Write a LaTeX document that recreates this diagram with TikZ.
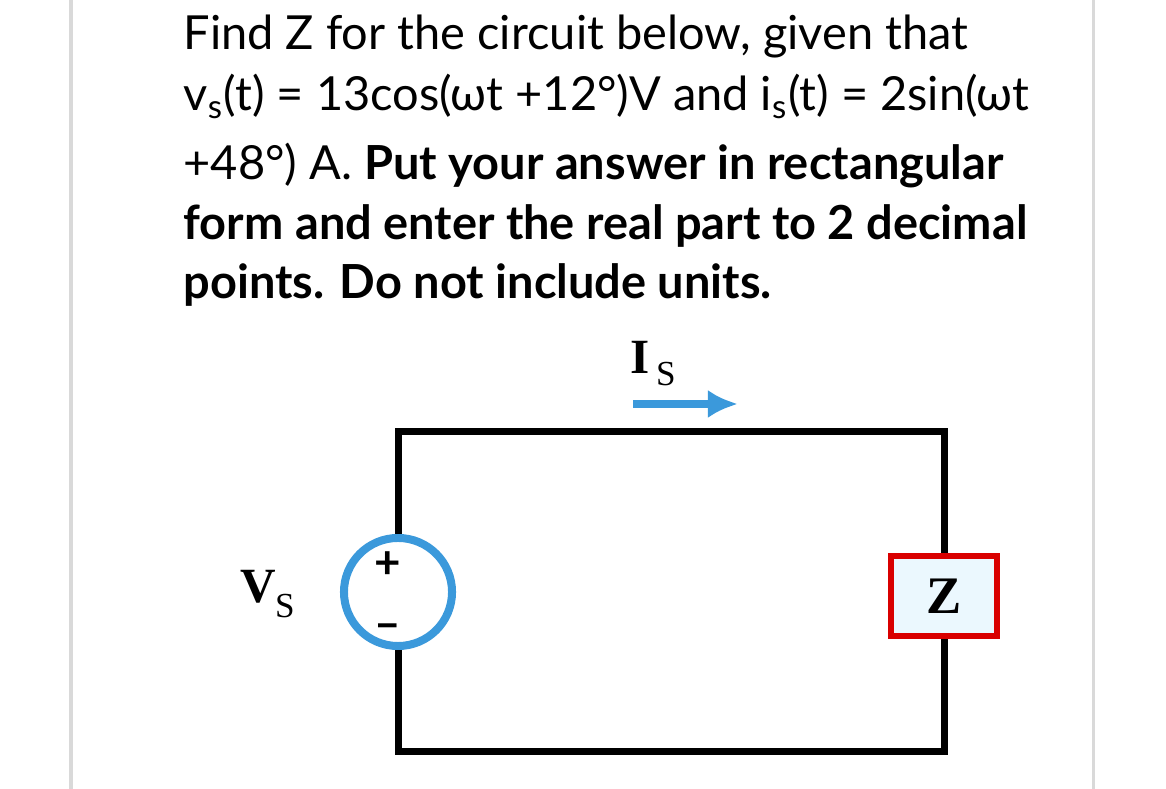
\documentclass[tikz,border=0pt]{standalone}
\usepackage{fontspec}
\usetikzlibrary{arrows.meta}
\setmainfont{Lato}
\newfontfamily\tms{Liberation Serif}
\begin{document}
\begin{tikzpicture}[x=0.01cm,y=-0.01cm,
  txt/.style={anchor=base west,inner sep=0,font=\fontsize{13.35}{15}\selectfont},
  wire/.style={line width=0.07cm},
  lbl/.style={font=\tms\bfseries\fontsize{14}{15}\selectfont,inner sep=0}]
\useasboundingbox (0,0) rectangle (1166,789);
\fill[white] (0,0) rectangle (1166,789);
\draw[gray!30,line width=0.03cm] (71,0) -- (71,789);
\draw[gray!30,line width=0.03cm] (1093,0) -- (1093,789);
\node[txt] (l1) at (183,50) {Find Z for the circuit below, given that};
\node[txt] (l2) at (183,111) {v\textsubscript{s}(t) = 13cos(ωt +12°)V and i\textsubscript{s}(t) = 2sin(ωt};
\node[txt] (l3) at (183,180) {+48°) A. \textbf{Put your answer in rectangular}};
\node[txt] (l4) at (183,240) {\textbf{form and enter the real part to 2 decimal}};
\node[txt] (l5) at (183,299) {\textbf{points. Do not include units.}};
\coordinate (tl) at (398,432);
\coordinate (tr) at (944,432);
\coordinate (br) at (944,752);
\coordinate (bl) at (398,752);
\node[draw=red!85!black,fill=cyan!8,line width=0.06cm,minimum width=1.06cm,minimum height=0.8cm,font=\tms\bfseries\fontsize{15}{16}\selectfont] (Z) at (944,596) {Z};
\node[circle,draw=cyan!70!blue!80,line width=0.08cm,fill=white,minimum size=1.08cm] (vs) at (398,592) {};
\draw[wire] (vs.north) -- (tl) -- (tr) -- (Z.north);
\draw[wire] (Z.south) -- (br) -- (bl) -- (vs.south);
\node[font=\fontsize{13}{13}\selectfont\bfseries] (plus) at (388,565) {+};
\node[font=\fontsize{13}{13}\selectfont\bfseries] (minus) at (388,632) {--};
\node[lbl] (Vs) at (258,587) {V};
\node[lbl,font=\tms\fontsize{10}{11}\selectfont] (Vss) at (285,606) {S};
\node[lbl] (Is) at (640,357) {I};
\node[lbl,font=\tms\fontsize{10}{11}\selectfont] (Iss) at (666,374) {S};
\coordinate (a1) at (633,404);
\coordinate (a2) at (738,404);
\draw[cyan!70!blue!80,line width=0.08cm,-{Latex[length=0.3cm,width=0.28cm]}] (a1) -- (a2);
\end{tikzpicture}
\end{document}
